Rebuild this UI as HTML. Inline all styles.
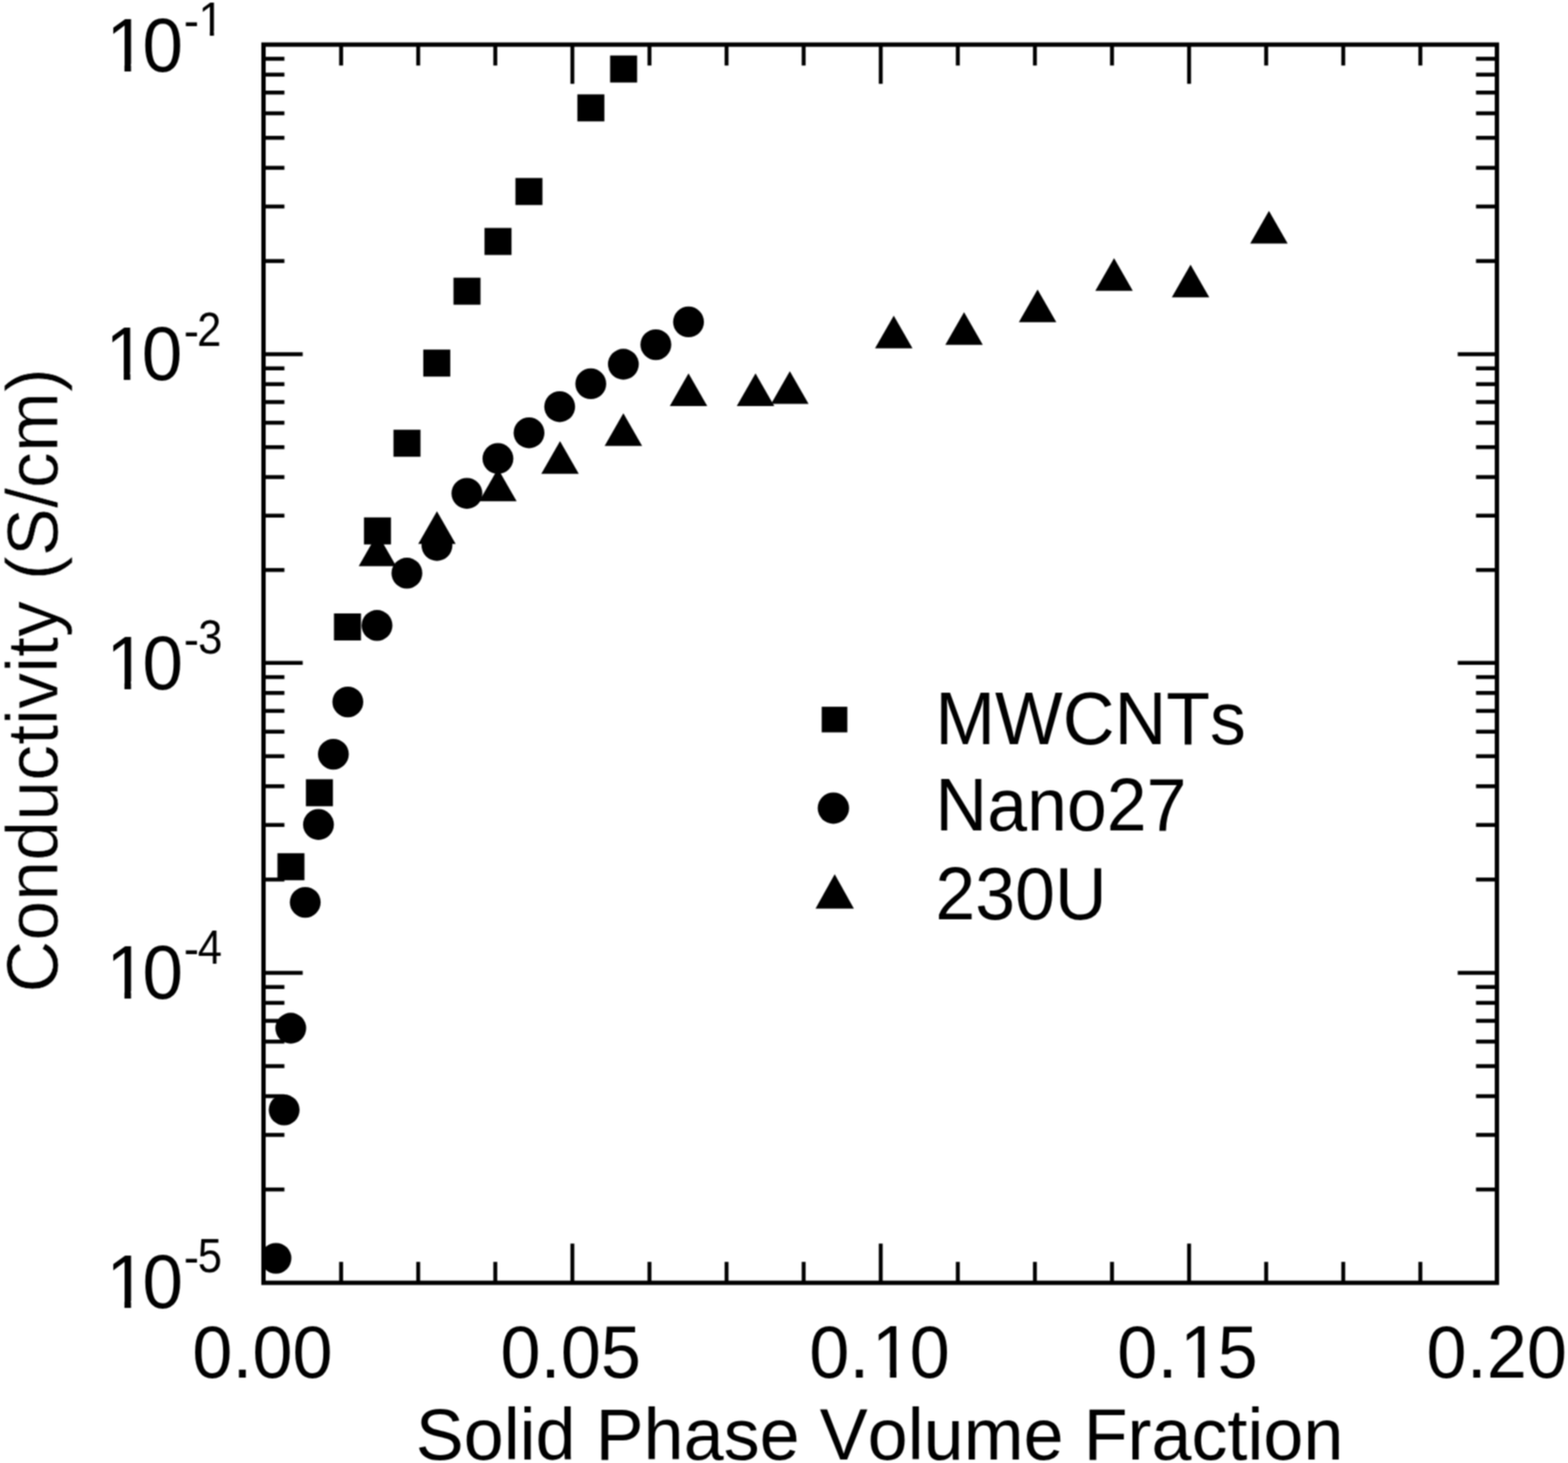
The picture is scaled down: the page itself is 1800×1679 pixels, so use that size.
<!DOCTYPE html>
<html lang="en"><head><meta charset="utf-8"><title>Conductivity vs Solid Phase Volume Fraction</title>
<style>html,body{margin:0;padding:0;background:#fff;}body{width:1800px;height:1679px;overflow:hidden;}svg{display:block;}text{font-family:'Liberation Sans', sans-serif;fill:#000;font-kerning:none;}</style>
</head><body>
<svg width="1800" height="1679" viewBox="0 0 1800 1679" role="img" aria-label="Conductivity (S/cm) versus Solid Phase Volume Fraction for MWCNTs, Nano27 and 230U">
<defs><filter id="soft" filterUnits="userSpaceOnUse" x="0" y="0" width="1800" height="1679" color-interpolation-filters="sRGB"><feConvolveMatrix order="3" kernelMatrix="1 2 1 2 4 2 1 2 1" divisor="16" edgeMode="duplicate" preserveAlpha="false"/></filter><clipPath id="plot"><rect x="300.00" y="48.70" width="1420.90" height="1426.00"/></clipPath><clipPath id="c1" clipPathUnits="userSpaceOnUse"><path clip-rule="evenodd" d="M-82.85,-124.27 H244.10 V49.71 H-82.85 Z M74.28,-8.12 H92.55 V1.66 H74.28 Z M100.03,-8.12 H118.19 V1.66 H100.03 Z"/></clipPath><clipPath id="c2" clipPathUnits="userSpaceOnUse"><path clip-rule="evenodd" d="M-83.70,-125.55 H176.80 V50.22 H-83.70 Z M7.41,-8.20 H25.87 V1.67 H7.41 Z M33.42,-8.20 H51.77 V1.67 H33.42 Z"/></clipPath><clipPath id="c3" clipPathUnits="userSpaceOnUse"><path clip-rule="evenodd" d="M-52.50,-78.75 H81.70 V31.50 H-52.50 Z M1.57,-5.15 H13.15 V1.05 H1.57 Z M17.89,-5.15 H29.40 V1.05 H17.89 Z"/></clipPath></defs>
<rect x="0" y="0" width="1800" height="1679" fill="#fff"/>
<g filter="url(#soft)">
<g stroke="#000" stroke-width="4.50" stroke-linecap="butt" fill="none">
<line x1="391.59" y1="51.20" x2="391.59" y2="75.20"/>
<line x1="391.59" y1="1472.20" x2="391.59" y2="1448.20"/>
<line x1="480.09" y1="51.20" x2="480.09" y2="75.20"/>
<line x1="480.09" y1="1472.20" x2="480.09" y2="1448.20"/>
<line x1="568.58" y1="51.20" x2="568.58" y2="75.20"/>
<line x1="568.58" y1="1472.20" x2="568.58" y2="1448.20"/>
<line x1="657.07" y1="51.20" x2="657.07" y2="96.20"/>
<line x1="657.07" y1="1472.20" x2="657.07" y2="1427.20"/>
<line x1="745.57" y1="51.20" x2="745.57" y2="75.20"/>
<line x1="745.57" y1="1472.20" x2="745.57" y2="1448.20"/>
<line x1="834.06" y1="51.20" x2="834.06" y2="75.20"/>
<line x1="834.06" y1="1472.20" x2="834.06" y2="1448.20"/>
<line x1="922.56" y1="51.20" x2="922.56" y2="75.20"/>
<line x1="922.56" y1="1472.20" x2="922.56" y2="1448.20"/>
<line x1="1011.05" y1="51.20" x2="1011.05" y2="96.20"/>
<line x1="1011.05" y1="1472.20" x2="1011.05" y2="1427.20"/>
<line x1="1099.54" y1="51.20" x2="1099.54" y2="75.20"/>
<line x1="1099.54" y1="1472.20" x2="1099.54" y2="1448.20"/>
<line x1="1188.04" y1="51.20" x2="1188.04" y2="75.20"/>
<line x1="1188.04" y1="1472.20" x2="1188.04" y2="1448.20"/>
<line x1="1276.53" y1="51.20" x2="1276.53" y2="75.20"/>
<line x1="1276.53" y1="1472.20" x2="1276.53" y2="1448.20"/>
<line x1="1365.03" y1="51.20" x2="1365.03" y2="96.20"/>
<line x1="1365.03" y1="1472.20" x2="1365.03" y2="1427.20"/>
<line x1="1453.52" y1="51.20" x2="1453.52" y2="75.20"/>
<line x1="1453.52" y1="1472.20" x2="1453.52" y2="1448.20"/>
<line x1="1542.01" y1="51.20" x2="1542.01" y2="75.20"/>
<line x1="1542.01" y1="1472.20" x2="1542.01" y2="1448.20"/>
<line x1="1630.51" y1="51.20" x2="1630.51" y2="75.20"/>
<line x1="1630.51" y1="1472.20" x2="1630.51" y2="1448.20"/>
<line x1="302.50" y1="406.55" x2="347.50" y2="406.55"/>
<line x1="1718.40" y1="406.55" x2="1673.40" y2="406.55"/>
<line x1="302.50" y1="299.58" x2="326.50" y2="299.58"/>
<line x1="1718.40" y1="299.58" x2="1694.40" y2="299.58"/>
<line x1="302.50" y1="237.00" x2="326.50" y2="237.00"/>
<line x1="1718.40" y1="237.00" x2="1694.40" y2="237.00"/>
<line x1="302.50" y1="192.61" x2="326.50" y2="192.61"/>
<line x1="1718.40" y1="192.61" x2="1694.40" y2="192.61"/>
<line x1="302.50" y1="158.17" x2="326.50" y2="158.17"/>
<line x1="1718.40" y1="158.17" x2="1694.40" y2="158.17"/>
<line x1="302.50" y1="130.03" x2="326.50" y2="130.03"/>
<line x1="1718.40" y1="130.03" x2="1694.40" y2="130.03"/>
<line x1="302.50" y1="106.24" x2="326.50" y2="106.24"/>
<line x1="1718.40" y1="106.24" x2="1694.40" y2="106.24"/>
<line x1="302.50" y1="85.64" x2="326.50" y2="85.64"/>
<line x1="1718.40" y1="85.64" x2="1694.40" y2="85.64"/>
<line x1="302.50" y1="67.46" x2="326.50" y2="67.46"/>
<line x1="1718.40" y1="67.46" x2="1694.40" y2="67.46"/>
<line x1="302.50" y1="760.80" x2="347.50" y2="760.80"/>
<line x1="1718.40" y1="760.80" x2="1673.40" y2="760.80"/>
<line x1="302.50" y1="654.16" x2="326.50" y2="654.16"/>
<line x1="1718.40" y1="654.16" x2="1694.40" y2="654.16"/>
<line x1="302.50" y1="591.78" x2="326.50" y2="591.78"/>
<line x1="1718.40" y1="591.78" x2="1694.40" y2="591.78"/>
<line x1="302.50" y1="547.52" x2="326.50" y2="547.52"/>
<line x1="1718.40" y1="547.52" x2="1694.40" y2="547.52"/>
<line x1="302.50" y1="513.19" x2="326.50" y2="513.19"/>
<line x1="1718.40" y1="513.19" x2="1694.40" y2="513.19"/>
<line x1="302.50" y1="485.14" x2="326.50" y2="485.14"/>
<line x1="1718.40" y1="485.14" x2="1694.40" y2="485.14"/>
<line x1="302.50" y1="461.42" x2="326.50" y2="461.42"/>
<line x1="1718.40" y1="461.42" x2="1694.40" y2="461.42"/>
<line x1="302.50" y1="440.88" x2="326.50" y2="440.88"/>
<line x1="1718.40" y1="440.88" x2="1694.40" y2="440.88"/>
<line x1="302.50" y1="422.76" x2="326.50" y2="422.76"/>
<line x1="1718.40" y1="422.76" x2="1694.40" y2="422.76"/>
<line x1="302.50" y1="1116.45" x2="347.50" y2="1116.45"/>
<line x1="1718.40" y1="1116.45" x2="1673.40" y2="1116.45"/>
<line x1="302.50" y1="1009.39" x2="326.50" y2="1009.39"/>
<line x1="1718.40" y1="1009.39" x2="1694.40" y2="1009.39"/>
<line x1="302.50" y1="946.76" x2="326.50" y2="946.76"/>
<line x1="1718.40" y1="946.76" x2="1694.40" y2="946.76"/>
<line x1="302.50" y1="902.33" x2="326.50" y2="902.33"/>
<line x1="1718.40" y1="902.33" x2="1694.40" y2="902.33"/>
<line x1="302.50" y1="867.86" x2="326.50" y2="867.86"/>
<line x1="1718.40" y1="867.86" x2="1694.40" y2="867.86"/>
<line x1="302.50" y1="839.70" x2="326.50" y2="839.70"/>
<line x1="1718.40" y1="839.70" x2="1694.40" y2="839.70"/>
<line x1="302.50" y1="815.89" x2="326.50" y2="815.89"/>
<line x1="1718.40" y1="815.89" x2="1694.40" y2="815.89"/>
<line x1="302.50" y1="795.27" x2="326.50" y2="795.27"/>
<line x1="1718.40" y1="795.27" x2="1694.40" y2="795.27"/>
<line x1="302.50" y1="777.07" x2="326.50" y2="777.07"/>
<line x1="1718.40" y1="777.07" x2="1694.40" y2="777.07"/>
<line x1="302.50" y1="1365.11" x2="326.50" y2="1365.11"/>
<line x1="1718.40" y1="1365.11" x2="1694.40" y2="1365.11"/>
<line x1="302.50" y1="1302.46" x2="326.50" y2="1302.46"/>
<line x1="1718.40" y1="1302.46" x2="1694.40" y2="1302.46"/>
<line x1="302.50" y1="1258.02" x2="326.50" y2="1258.02"/>
<line x1="1718.40" y1="1258.02" x2="1694.40" y2="1258.02"/>
<line x1="302.50" y1="1223.54" x2="326.50" y2="1223.54"/>
<line x1="1718.40" y1="1223.54" x2="1694.40" y2="1223.54"/>
<line x1="302.50" y1="1195.37" x2="326.50" y2="1195.37"/>
<line x1="1718.40" y1="1195.37" x2="1694.40" y2="1195.37"/>
<line x1="302.50" y1="1171.56" x2="326.50" y2="1171.56"/>
<line x1="1718.40" y1="1171.56" x2="1694.40" y2="1171.56"/>
<line x1="302.50" y1="1150.93" x2="326.50" y2="1150.93"/>
<line x1="1718.40" y1="1150.93" x2="1694.40" y2="1150.93"/>
<line x1="302.50" y1="1132.73" x2="326.50" y2="1132.73"/>
<line x1="1718.40" y1="1132.73" x2="1694.40" y2="1132.73"/>
</g>
<rect x="302.50" y="51.20" width="1415.90" height="1421.00" fill="none" stroke="#000" stroke-width="5.00" stroke-linejoin="miter"/>
<g fill="#000" stroke="none" clip-path="url(#plot)">
<polygon points="433.30,612.25 454.80,649.75 411.80,649.75"/>
<polygon points="501.60,586.85 523.10,624.35 480.10,624.35"/>
<polygon points="571.60,537.85 593.10,575.35 550.10,575.35"/>
<polygon points="642.90,506.25 664.40,543.75 621.40,543.75"/>
<polygon points="715.60,474.25 737.10,511.75 694.10,511.75"/>
<polygon points="790.40,428.50 811.90,466.00 768.90,466.00"/>
<polygon points="867.30,428.50 888.80,466.00 845.80,466.00"/>
<polygon points="906.70,426.05 928.20,463.55 885.20,463.55"/>
<polygon points="1026.00,362.35 1047.50,399.85 1004.50,399.85"/>
<polygon points="1106.70,358.25 1128.20,395.75 1085.20,395.75"/>
<polygon points="1191.10,332.35 1212.60,369.85 1169.60,369.85"/>
<polygon points="1278.90,296.25 1300.40,333.75 1257.40,333.75"/>
<polygon points="1366.70,303.70 1388.20,341.20 1345.20,341.20"/>
<polygon points="1456.70,242.05 1478.20,279.55 1435.20,279.55"/>
<circle cx="790.40" cy="369.40" r="17.70"/>
<circle cx="752.90" cy="395.60" r="17.70"/>
<circle cx="715.60" cy="418.00" r="17.70"/>
<circle cx="678.20" cy="440.40" r="17.70"/>
<circle cx="642.50" cy="466.70" r="17.70"/>
<circle cx="607.30" cy="496.70" r="17.70"/>
<circle cx="571.60" cy="526.20" r="17.70"/>
<circle cx="536.00" cy="566.20" r="17.70"/>
<circle cx="501.60" cy="626.00" r="17.70"/>
<circle cx="467.10" cy="657.80" r="17.70"/>
<circle cx="432.80" cy="717.80" r="17.70"/>
<circle cx="399.30" cy="805.60" r="17.70"/>
<circle cx="382.70" cy="865.60" r="17.70"/>
<circle cx="365.60" cy="946.20" r="17.70"/>
<circle cx="350.40" cy="1035.60" r="17.70"/>
<circle cx="333.80" cy="1180.00" r="17.70"/>
<circle cx="326.20" cy="1273.80" r="17.70"/>
<circle cx="316.80" cy="1444.10" r="17.70"/>
<rect x="700.40" y="63.70" width="31.00" height="31.00"/>
<rect x="662.80" y="108.30" width="31.00" height="31.00"/>
<rect x="591.70" y="204.30" width="31.00" height="31.00"/>
<rect x="556.20" y="261.60" width="31.00" height="31.00"/>
<rect x="520.60" y="318.70" width="31.00" height="31.00"/>
<rect x="485.90" y="401.20" width="31.00" height="31.00"/>
<rect x="451.70" y="493.20" width="31.00" height="31.00"/>
<rect x="417.80" y="593.80" width="31.00" height="31.00"/>
<rect x="383.40" y="704.00" width="31.00" height="31.00"/>
<rect x="351.20" y="894.30" width="31.00" height="31.00"/>
<rect x="318.50" y="979.20" width="31.00" height="31.00"/>
</g>
<g fill="#000" stroke="none">
<rect x="943.30" y="811.10" width="29.40" height="29.40"/>
<circle cx="956.70" cy="927.40" r="18.00"/>
<polygon points="958.20,1003.30 980.20,1042.70 936.20,1042.70"/>
</g>
<text transform="translate(220.68,1580.85) scale(1,1.023)" font-size="82.85" text-anchor="start">0.00</text>
<text transform="translate(574.55,1580.85) scale(1,1.023)" font-size="82.85" text-anchor="start">0.05</text>
<text transform="translate(929.03,1580.85) scale(1,1.023)" font-size="82.85" text-anchor="start" dx="0 0 2.7 -2.7" clip-path="url(#c1)">0.10</text>
<text transform="translate(1282.60,1580.85) scale(1,1.023)" font-size="82.85" text-anchor="start" dx="0 0 2.7 -2.7" clip-path="url(#c1)">0.15</text>
<text transform="translate(1637.58,1580.85) scale(1,1.023)" font-size="82.85" text-anchor="start">0.20</text>
<text transform="translate(117.00,82.10) scale(1,1.038)" font-size="83.70" text-anchor="start" dx="4.9 -4.9" clip-path="url(#c2)">10</text>
<text transform="translate(211.10,43.00) scale(1,1.050)" font-size="52.50" text-anchor="start">-</text>
<text transform="translate(227.70,41.10) scale(1,1.050)" font-size="52.50" text-anchor="start" clip-path="url(#c3)">1</text>
<text transform="translate(116.20,435.85) scale(1,1.038)" font-size="83.70" text-anchor="start" dx="4.9 -4.9" clip-path="url(#c2)">10</text>
<text transform="translate(211.10,398.85) scale(1,1.050)" font-size="52.50" text-anchor="start">-</text>
<text transform="translate(226.30,397.35) scale(1,1.100)" font-size="50.00" text-anchor="start">2</text>
<text transform="translate(117.00,790.60) scale(1,1.038)" font-size="83.70" text-anchor="start" dx="4.9 -4.9" clip-path="url(#c2)">10</text>
<text transform="translate(211.10,753.40) scale(1,1.050)" font-size="52.50" text-anchor="start">-</text>
<text transform="translate(227.40,749.90) scale(1,1.100)" font-size="50.00" text-anchor="start">3</text>
<text transform="translate(117.00,1145.95) scale(1,1.038)" font-size="83.70" text-anchor="start" dx="4.9 -4.9" clip-path="url(#c2)">10</text>
<text transform="translate(211.10,1107.75) scale(1,1.050)" font-size="52.50" text-anchor="start">-</text>
<text transform="translate(227.00,1106.30) scale(1,1.100)" font-size="50.00" text-anchor="start">4</text>
<text transform="translate(117.00,1501.40) scale(1,1.038)" font-size="83.70" text-anchor="start" dx="4.9 -4.9" clip-path="url(#c2)">10</text>
<text transform="translate(211.10,1461.70) scale(1,1.050)" font-size="52.50" text-anchor="start">-</text>
<text transform="translate(227.00,1459.50) scale(1,1.100)" font-size="50.00" text-anchor="start">5</text>
<text transform="translate(1073.80,853.80) scale(1,1.026)" font-size="82.30" text-anchor="start">MWCNTs</text>
<text transform="translate(1073.80,952.90) scale(1,1.026)" font-size="82.30" text-anchor="start">Nano27</text>
<text transform="translate(1073.80,1055.00) scale(1,1.026)" font-size="82.30" text-anchor="start">230U</text>
<text x="1009.70" y="1675.00" font-size="82.60" text-anchor="middle">Solid Phase Volume Fraction</text>
<text transform="translate(65.50,1139.20) rotate(-90)" font-size="82.50" text-anchor="start" stroke="#fff" stroke-width="0.6">Conductivity</text>
<text transform="translate(65.50,665.80) rotate(-90)" font-size="82.70" text-anchor="start" stroke="#fff" stroke-width="0.6">(S/cm)</text>
</g>
</svg>
</body></html>
